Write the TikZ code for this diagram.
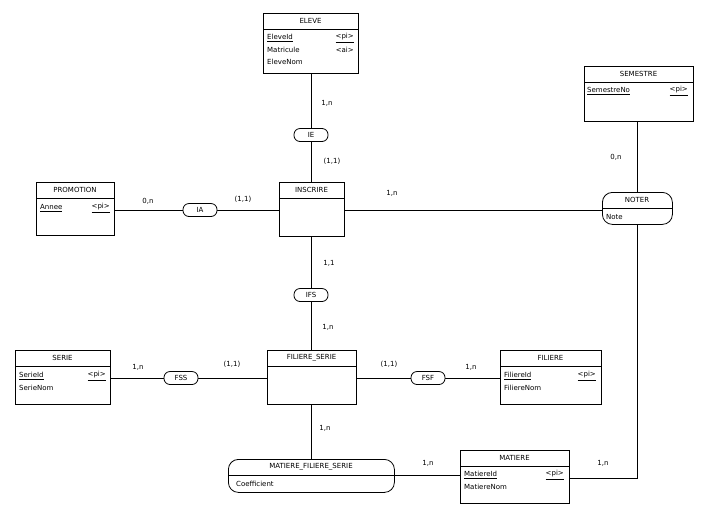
\documentclass[tikz,border=0pt]{standalone}
\usepackage{fontspec}
\setmainfont{DejaVu Sans}
\begin{document}
\begin{tikzpicture}[x=1pt,y=-1pt,font=\fontsize{7}{8}\selectfont,
  box/.style={draw,thick,fill=white,anchor=north west,inner sep=0pt},
  asso/.style={draw,thick,fill=white,rounded corners=6pt,minimum width=34pt,minimum height=13pt,inner sep=0pt},
  lnk/.style={thick},
  card/.style={inner sep=0pt}]
\useasboundingbox (0,0) rectangle (711,523);
\fill[white] (0,0) rectangle (711,523);
% entity macro: name, x, y, w, h, title, title height
\newcommand\ent[7]{%
  \node[box,minimum width=#4pt,minimum height=#5pt] (#1) at (#2,#3) {};
  \draw[thick] (#2,#3+#7) -- (#2+#4,#3+#7);
  \node[inner sep=0pt] at (#2+#4/2,#3+#7/2) {#6};}
% links first
\draw[lnk] (311,73) -- (311,182);
\draw[lnk] (114,210) -- (279,210);
\draw[lnk] (344,210) -- (602,210);
\draw[lnk] (637,121) -- (637,192);
\draw[lnk] (311,236) -- (311,350);
\draw[lnk] (110,378) -- (267,378);
\draw[lnk] (356,378) -- (500,378);
\draw[lnk] (311,404) -- (311,459);
\draw[lnk] (394,475) -- (460,475);
\draw[lnk] (637,224) -- (637,478) -- (569,478);
% entities
\ent{eleve}{263}{13}{95}{60}{ELEVE}{16}
\node[card,anchor=west] at (267,38) {\underline{EleveId}};
\node[card,anchor=east] at (354,38) {\underline{<pi>}};
\node[card,anchor=west] at (267,50) {Matricule};
\node[card,anchor=east] at (354,50) {<ai>};
\node[card,anchor=west] at (267,62) {EleveNom};
\ent{semestre}{584}{66}{109}{55}{SEMESTRE}{16}
\node[card,anchor=west] at (587,91) {\underline{SemestreNo}};
\node[card,anchor=east] at (688,91) {\underline{<pi>}};
\ent{promotion}{36}{182}{78}{53}{PROMOTION}{16}
\node[card,anchor=west] at (40,208) {\underline{Annee}};
\node[card,anchor=east] at (110,208) {\underline{<pi>}};
\ent{inscrire}{279}{182}{65}{54}{INSCRIRE}{16}
\ent{serie}{15}{350}{95}{54}{SERIE}{16}
\node[card,anchor=west] at (19,376) {\underline{SerieId}};
\node[card,anchor=east] at (106,376) {\underline{<pi>}};
\node[card,anchor=west] at (19,388) {SerieNom};
\ent{filiereserie}{267}{350}{89}{54}{FILIERE\_SERIE}{16}
\ent{filiere}{500}{350}{101}{54}{FILIERE}{16}
\node[card,anchor=west] at (504,376) {\underline{FiliereId}};
\node[card,anchor=east] at (596,376) {\underline{<pi>}};
\node[card,anchor=west] at (504,388) {FiliereNom};
\ent{matiere}{460}{450}{109}{53}{MATIERE}{16}
\node[card,anchor=west] at (464,475) {\underline{MatiereId}};
\node[card,anchor=east] at (564,475) {\underline{<pi>}};
\node[card,anchor=west] at (464,487) {MatiereNom};
% associations with attributes
\node[draw,thick,fill=white,rounded corners=10pt,minimum width=70pt,minimum height=32pt,anchor=north west] (noter) at (602,192) {};
\draw[thick] (602,208) -- (672,208);
\node[card] at (637,200) {NOTER};
\node[card,anchor=west] at (606,217) {Note};
\node[draw,thick,fill=white,rounded corners=10pt,minimum width=166pt,minimum height=33pt,anchor=north west] (mfs) at (228,459) {};
\draw[thick] (228,475) -- (394,475);
\node[card] at (311,467) {MATIERE\_FILIERE\_SERIE};
\node[card,anchor=west] at (236,484) {Coefficient};
% small associations
\node[asso] (ie) at (311,135) {IE};
\node[asso] (ia) at (200,210) {IA};
\node[asso] (ifs) at (311,295) {IFS};
\node[asso] (fss) at (181,378) {FSS};
\node[asso] (fsf) at (428,378) {FSF};
% cardinalities
\node[card] at (327,103) {1,n};
\node[card] at (332,161) {(1,1)};
\node[card] at (148,201) {0,n};
\node[card] at (243,199) {(1,1)};
\node[card] at (392,193) {1,n};
\node[card] at (616,157) {0,n};
\node[card] at (329,263) {1,1};
\node[card] at (328,327) {1,n};
\node[card] at (138,367) {1,n};
\node[card] at (232,364) {(1,1)};
\node[card] at (389,364) {(1,1)};
\node[card] at (471,367) {1,n};
\node[card] at (325,428) {1,n};
\node[card] at (428,463) {1,n};
\node[card] at (603,463) {1,n};
\end{tikzpicture}
\end{document}
